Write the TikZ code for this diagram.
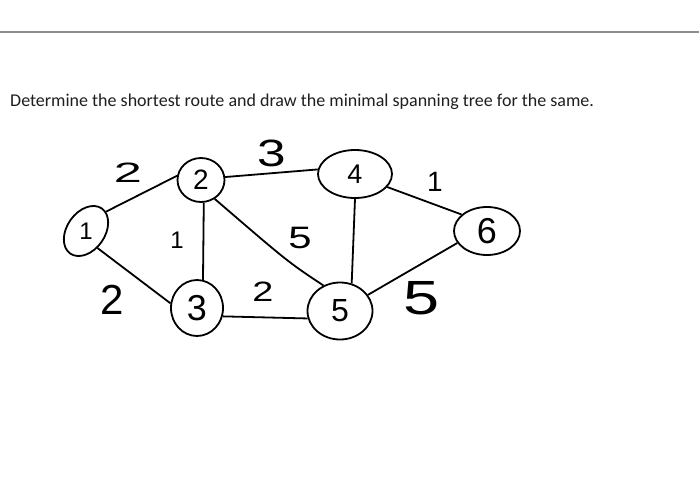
\documentclass[tikz,border=0pt]{standalone}
\usepackage{fontspec}
\setmainfont{Carlito}
\newfontfamily\hand{Liberation Sans}
\newfontfamily\handw[FakeStretch=1.35]{Liberation Sans}
\newfontfamily\handww[FakeStretch=1.8]{Liberation Sans}
\usetikzlibrary{shapes.geometric}
\begin{document}
\begin{tikzpicture}[x=1pt,y=-1pt,
  vtx/.style={ellipse, draw, line width=1.8pt, inner sep=0pt},
  edge/.style={line width=1.8pt},
  num/.style={font=\hand\fontsize{#1}{#1}\selectfont, inner sep=0pt},
  numw/.style={font=\handw\fontsize{#1}{#1}\selectfont, inner sep=0pt},
  numww/.style={font=\handww\fontsize{#1}{#1}\selectfont, inner sep=0pt},
]
\useasboundingbox (0,0) rectangle (699,501);
\fill[white] (0,0) rectangle (699,501);
\draw[black!45, line width=2pt] (0,31.5) -- (699,31.5);
\node[anchor=base west, inner sep=0pt, font=\fontsize{18}{18}\selectfont, text=black!88] (title) at (10,106)
  {Determine the shortest route and draw the minimal spanning tree for the same.};

% vertices
\node[vtx, num=24, minimum width=38pt, minimum height=55pt, rotate=-35] (n1) at (86,231) {\rotatebox{35}{1}};
\node[vtx, num=28, minimum width=47pt, minimum height=44pt] (n2) at (201,180) {2};
\node[vtx, num=27, minimum width=74pt, minimum height=48pt] (n4) at (355,174) {4};
\node[vtx, num=36, minimum width=66pt, minimum height=48pt] (n6) at (487,231) {6};
\node[vtx, num=36, minimum width=52pt, minimum height=56pt] (n3) at (197,308) {3};
\node[vtx, num=32, minimum width=65pt, minimum height=57pt] (n5) at (340,311) {5};

% edges
\draw[edge] (n1.79) -- (n2.170);
\draw[edge] (n2.7) -- (n4.173);
\draw[edge] (n4.-22) -- (n6.147);
\draw[edge] (n2.-83) -- (n3.78);
\draw[edge] (n2.-54) .. controls (288,262) .. (n5.123);
\draw[edge] (n4.-90) -- (n5.67);
\draw[edge] (n1.-21) -- (n3.170);
\draw[edge] (n3.-18) -- (n5.-167);
\draw[edge] (n5.30) -- (n6.202);

% weights
\node[numww=28] (w12) at (128,173) {2};
\node[numw=38] (w24) at (272,153) {3};
\node[num=28] (w46) at (435,182) {1};
\node[num=24] (w23) at (177,240) {1};
\node[numw=31] (w25) at (300,238) {5};
\node[numw=28] (w35) at (263,292) {2};
\node[numw=48] (w56) at (422,298) {5};
\node[num=42] (w13) at (112,300) {2};
\end{tikzpicture}
\end{document}
